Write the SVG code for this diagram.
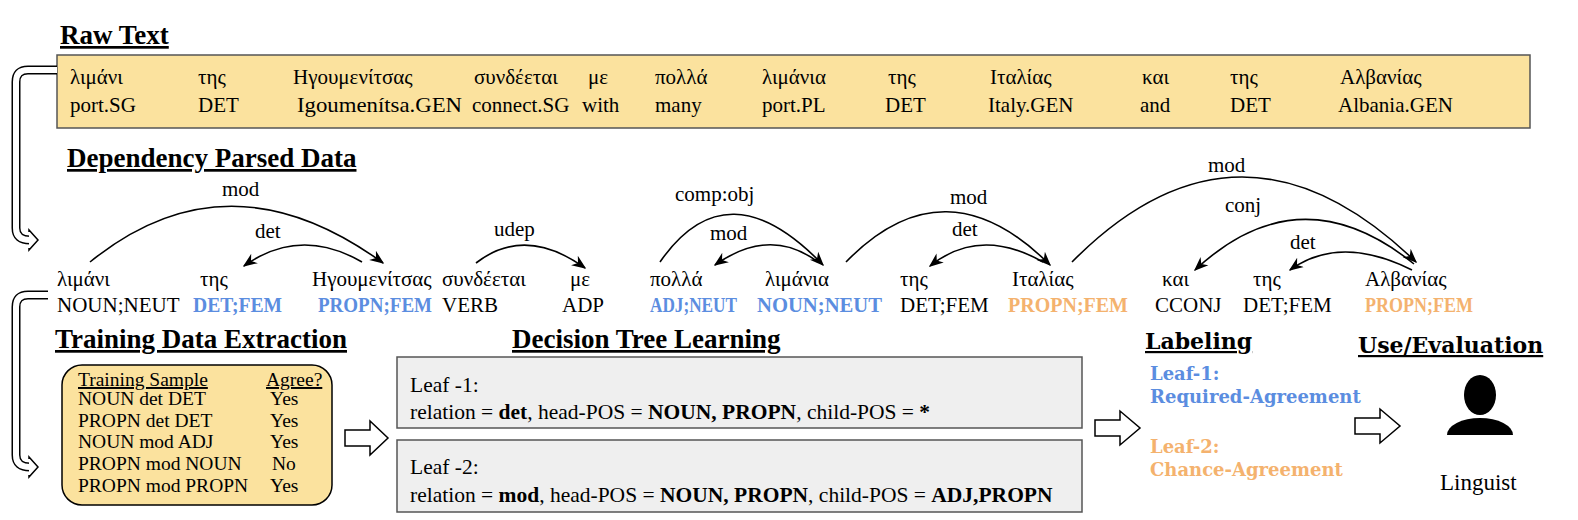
<svg xmlns="http://www.w3.org/2000/svg" width="1578" height="520" viewBox="0 0 1578 520">
<defs>
<style>
text{font-family:"Liberation Serif","DejaVu Serif",serif;font-size:21px;fill:#000}
.h{font-weight:bold;font-size:27px;text-decoration:underline}
.h2{font-family:"DejaVu Serif",serif;font-weight:bold;font-size:22px;text-decoration:underline}
.d{font-family:"DejaVu Serif",serif;font-weight:bold;font-size:18px}
.b{font-weight:bold}
.blue{fill:#5b8de0;font-weight:bold}
.or{fill:#f4b26e;font-weight:bold}
.tr{font-size:19.5px}
.lf{font-size:21.5px}
.arc{fill:none;stroke:#000;stroke-width:1.6}
.ha{fill:#fff;stroke:#000;stroke-width:1.5}
</style>
<marker id="ah" viewBox="0 0 10 10" refX="9" refY="5" markerWidth="9" markerHeight="9" orient="auto-start-reverse"><path d="M0,1 L10,5 L0,9 L3,5 Z" fill="#000"/></marker>
</defs>
<rect width="1578" height="520" fill="#fff"/>

<g id="raw">
<text class="h" x="60" y="44">Raw Text</text>
<rect x="57" y="55" width="1473" height="73" fill="#fbe29e" stroke="#555" stroke-width="1.5"/>
<text x="70" y="84">λιμάνι</text><text x="70" y="112">port.SG</text>
<text x="198" y="84">της</text><text x="198" y="112">DET</text>
<text x="293" y="84">Ηγουμενίτσας</text><text x="297" y="112" textLength="165" lengthAdjust="spacingAndGlyphs">Igoumenítsa.GEN</text>
<text x="474" y="84">συνδέεται</text><text x="472" y="112">connect.SG</text>
<text x="588" y="84">με</text><text x="582" y="112">with</text>
<text x="655" y="84">πολλά</text><text x="655" y="112">many</text>
<text x="762" y="84">λιμάνια</text><text x="762" y="112">port.PL</text>
<text x="888" y="84">της</text><text x="885" y="112">DET</text>
<text x="990" y="84">Ιταλίας</text><text x="988" y="112">Italy.GEN</text>
<text x="1142" y="84">και</text><text x="1140" y="112">and</text>
<text x="1230" y="84">της</text><text x="1230" y="112">DET</text>
<text x="1340" y="84">Αλβανίας</text><text x="1338" y="112">Albania.GEN</text>
</g>

<g id="dep">
<text class="h" x="67" y="167">Dependency Parsed Data</text>
<text x="57" y="286">λιμάνι</text><text x="57" y="312">NOUN;NEUT</text>
<text x="200" y="286">της</text><text class="blue" x="193" y="312" textLength="89" lengthAdjust="spacingAndGlyphs">DET;FEM</text>
<text x="312" y="286">Ηγουμενίτσας</text><text class="blue" x="318" y="312" textLength="114" lengthAdjust="spacingAndGlyphs">PROPN;FEM</text>
<text x="442" y="286">συνδέεται</text><text x="442" y="312">VERB</text>
<text x="570" y="286">με</text><text x="562" y="312">ADP</text>
<text x="650" y="286">πολλά</text><text class="blue" x="650" y="312" textLength="87" lengthAdjust="spacingAndGlyphs">ADJ;NEUT</text>
<text x="765" y="286">λιμάνια</text><text class="blue" x="757" y="312" textLength="125" lengthAdjust="spacingAndGlyphs">NOUN;NEUT</text>
<text x="900" y="286">της</text><text x="900" y="312">DET;FEM</text>
<text x="1012" y="286">Ιταλίας</text><text class="or" x="1008" y="312" textLength="120" lengthAdjust="spacingAndGlyphs">PROPN;FEM</text>
<text x="1162" y="286">και</text><text x="1155" y="312">CCONJ</text>
<text x="1253" y="286">της</text><text x="1243" y="312">DET;FEM</text>
<text x="1365" y="286">Αλβανίας</text><text class="or" x="1365" y="312" textLength="108" lengthAdjust="spacingAndGlyphs">PROPN;FEM</text>
<text x="222" y="196">mod</text><text x="255" y="238">det</text>
<text x="494" y="236">udep</text>
<text x="675" y="201">comp:obj</text><text x="710" y="240">mod</text>
<text x="950" y="204">mod</text><text x="952" y="236">det</text>
<text x="1208" y="172">mod</text><text x="1225" y="212">conj</text><text x="1290" y="249">det</text>
</g>

<g id="connectors">
<path class="arc" marker-end="url(#ah)" d="M90,262 Q228,150 383,263"/>
<path class="arc" marker-end="url(#ah)" d="M362,262 Q300,226 244,266"/>
<path class="arc" marker-end="url(#ah)" d="M476,263 Q525,225 585,268"/>
<path class="arc" marker-end="url(#ah)" d="M660,262 Q727,165 823,265"/>
<path class="arc" marker-end="url(#ah)" d="M818,262 Q770,226 715,265"/>
<path class="arc" marker-end="url(#ah)" d="M846,262 Q945,160 1050,265"/>
<path class="arc" marker-end="url(#ah)" d="M1043,262 Q980,226 930,266"/>
<path class="arc" marker-end="url(#ah)" d="M1072,262 Q1240,92 1416,262"/>
<path class="arc" marker-end="url(#ah)" d="M1414,264 Q1300,172 1195,270"/>
<path class="arc" marker-end="url(#ah)" d="M1412,270 Q1340,234 1290,270"/>
<path d="M57,70 L28,70 Q16,70 16,82 L16,228 Q16,240 30,240" fill="none" stroke="#000" stroke-width="9"/>
<path d="M57,70 L28,70 Q16,70 16,82 L16,228 Q16,240 30,240" fill="none" stroke="#fff" stroke-width="6"/>
<path class="ha" d="M29,232 L29,230 L38,240 L29,250 L29,248"/>
<path d="M48,295 L28,295 Q16,295 16,307 L16,455 Q16,467 30,467" fill="none" stroke="#000" stroke-width="9"/>
<path d="M48,295 L28,295 Q16,295 16,307 L16,455 Q16,467 30,467" fill="none" stroke="#fff" stroke-width="6"/>
<path class="ha" d="M29,459 L29,457 L38,467 L29,477 L29,475"/>
<polygon class="ha" points="345,430 370,430 370,421 388,438 370,455 370,446 345,446"/>
<polygon class="ha" points="1095,420 1120,420 1120,411 1140,428 1120,445 1120,436 1095,436"/>
<polygon class="ha" points="1355,418 1380,418 1380,409 1400,426 1380,443 1380,434 1355,434"/>
</g>

<g id="training">
<text class="h" x="55" y="348">Training Data Extraction</text>
<rect x="62" y="365" width="270" height="140" rx="20" fill="#fbe29e" stroke="#000" stroke-width="1.5"/>
<text class="tr" x="78" y="386" text-decoration="underline">Training Sample</text><text class="tr" x="266" y="386" text-decoration="underline">Agree?</text>
<text class="tr" x="78" y="405">NOUN det  DET</text><text class="tr" x="270" y="405">Yes</text>
<text class="tr" x="78" y="427">PROPN det DET</text><text class="tr" x="270" y="427">Yes</text>
<text class="tr" x="78" y="448">NOUN mod ADJ</text><text class="tr" x="270" y="448">Yes</text>
<text class="tr" x="78" y="470">PROPN mod NOUN</text><text class="tr" x="272" y="470">No</text>
<text class="tr" x="78" y="492">PROPN mod PROPN</text><text class="tr" x="270" y="492">Yes</text>
</g>

<g id="tree">
<text class="h" x="512" y="348">Decision Tree Learning</text>
<rect x="397" y="357" width="685" height="71" fill="#efefef" stroke="#555" stroke-width="1.5"/>
<text class="lf" x="410" y="392">Leaf -1:</text>
<text class="lf" x="410" y="419">relation = <tspan class="b">det</tspan>, head-POS = <tspan class="b">NOUN, PROPN</tspan>, child-POS = <tspan class="b">*</tspan></text>
<rect x="397" y="440" width="685" height="72" fill="#efefef" stroke="#555" stroke-width="1.5"/>
<text class="lf" x="410" y="474">Leaf -2:</text>
<text class="lf" x="410" y="502">relation = <tspan class="b">mod</tspan>, head-POS = <tspan class="b">NOUN, PROPN</tspan>, child-POS = <tspan class="b">ADJ,PROPN</tspan></text>
</g>

<g id="labeling">
<text class="h2" x="1145" y="349">Labeling</text>
<text class="d blue" x="1150" y="380">Leaf-1:</text>
<text class="d blue" x="1150" y="403">Required-Agreement</text>
<text class="d or" x="1150" y="453">Leaf-2:</text>
<text class="d or" x="1150" y="476">Chance-Agreement</text>
</g>

<g id="use">
<text class="h2" x="1358" y="353">Use/Evaluation</text>
<ellipse cx="1480" cy="395" rx="16" ry="20" fill="#000"/>
<ellipse cx="1480" cy="435" rx="33" ry="17" fill="#000"/>
<rect x="1446" y="435" width="70" height="20" fill="#fff"/>
<text x="1440" y="490" style="font-size:23px">Linguist</text>
</g>
</svg>
